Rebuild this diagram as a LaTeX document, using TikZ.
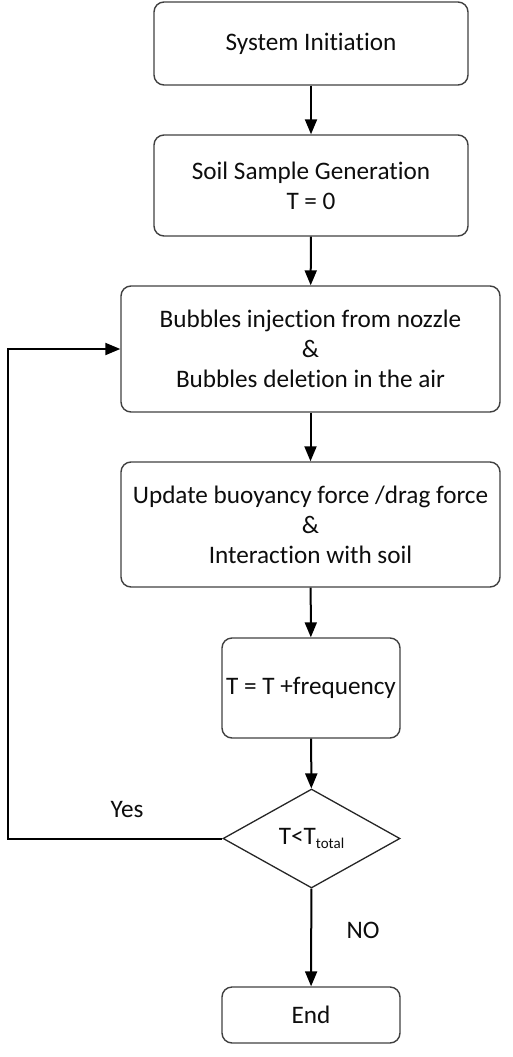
\documentclass[tikz,border=0pt]{standalone}
\usepackage{fontspec}
\setmainfont{Carlito}[Ligatures={NoCommon,NoRequired,NoContextual}]
\usetikzlibrary{shapes.geometric,arrows.meta}
\begin{document}
\begin{tikzpicture}[x=1pt,y=1pt,
  stepbox/.style={draw=black!75,line width=1.4pt,rounded corners=10pt,align=center,
    inner sep=0pt,font=\fontsize{25.2}{30}\selectfont,text=black!95},
  decbox/.style={draw=black!85,line width=1.3pt,diamond,aspect=1.8,inner sep=0pt,
    font=\fontsize{25.2}{30}\selectfont,text=black!95},
  flow/.style={line width=2pt,draw=black,-{Triangle[length=15pt,width=12pt]}},
  lbl/.style={font=\fontsize{25.2}{30}\selectfont,text=black!95,inner sep=0pt}]
\useasboundingbox (0,0) rectangle (512,-1057);
\node[stepbox,minimum width=314pt,minimum height=83pt] (b1) at (311,-43.5) {System Initiation};
\node[stepbox,minimum width=314pt,minimum height=101pt] (b2) at (311,-185.5) {Soil Sample Generation\\T = 0};
\node[stepbox,minimum width=379pt,minimum height=126pt] (b3) at (310.5,-349) {Bubbles injection from nozzle\\\&\\Bubbles deletion in the air};
\node[stepbox,minimum width=379pt,minimum height=125pt] (b4) at (310.5,-524.5) {Update buoyancy force /drag force\\\&\\Interaction with soil};
\node[stepbox,minimum width=178pt,minimum height=100pt] (b5) at (311,-688) {T = T +frequency};
\node[decbox,minimum width=177pt,minimum height=99pt] (d) at (311.5,-838.5) {T<T{\fontsize{15}{15}\selectfont\raisebox{-4pt}{total}}};
\node[stepbox,minimum width=178pt,minimum height=56pt] (e) at (311,-1015) {End};
\coordinate (lb) at (8,-838.5);
\coordinate (lt) at (8,-349);
\draw[flow] (b1) -- (b2);
\draw[flow] (b2) -- (b3);
\draw[flow] (b3) -- (b4);
\draw[flow] (b4) -- (b5);
\draw[flow] (b5) -- (d);
\draw[flow] (d) -- (e);
\draw[flow] (d.west) -- (lb) -- (lt) -- (b3.west);
\node[lbl] (yes) at (127,-809) {Yes};
\node[lbl] (no) at (363,-930) {NO};
\end{tikzpicture}
\end{document}
